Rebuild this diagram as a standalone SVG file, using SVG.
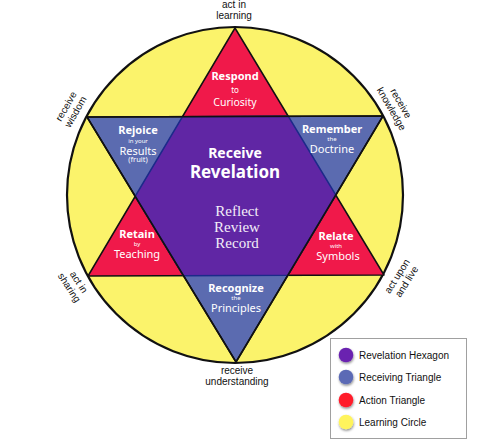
<svg xmlns="http://www.w3.org/2000/svg" width="477" height="441" viewBox="0 0 477 441">
<style>
.nt{font-family:"Noto Sans","DejaVu Sans",sans-serif;fill:#fff;text-anchor:middle}
.b{font-weight:bold;font-size:11px}
.s{font-size:6px}
.m{font-size:11px}
.ol{font-family:"Liberation Sans",Arial,sans-serif;font-size:10px;fill:#111;text-anchor:middle}
.lg{font-family:"Liberation Sans",Arial,sans-serif;font-size:10px;fill:#111}
.sf{font-family:"Liberation Serif","Times New Roman",serif;font-size:15px;fill:#f3eef8;text-anchor:middle}
</style>
<defs>
<filter id="sh" x="-50%" y="-50%" width="200%" height="200%">
<feDropShadow dx="0.5" dy="1.5" stdDeviation="1" flood-color="#000" flood-opacity="0.45"/>
</filter>
</defs>
<rect width="477" height="441" fill="#fff"/>
<g id="circle">
<circle cx="235" cy="195" r="168" fill="#fbf36b" stroke="#111" stroke-width="2.2"/>
</g>
<g id="action-triangle">
<polygon points="235,28 88,276 384,275" fill="#f0194a" stroke="#111" stroke-width="1.5" stroke-linejoin="round"/>
</g>
<g id="receiving-triangle">
<polygon points="87,117 383,116 236,362" fill="#5b6bb0" stroke="#111" stroke-width="1.5" stroke-linejoin="round"/>
</g>
<g id="hexagon">
<polygon points="182.4,116.8 288.3,116.3 335.8,195 287.8,275.3 183.5,275.7 135.2,196.3" fill="#6026a4" stroke="#1c2a8a" stroke-width="1.5"/>
</g>
<g id="connectors">
<polygon points="87,117 383,116 236,362" fill="none" stroke="#111" stroke-width="1.5" stroke-linejoin="round"/>
</g>
<g id="respond">
<text class="nt b" x="235" y="80">Respond</text>
<text class="nt" x="235" y="93" style="font-size:8px">to</text>
<text class="nt m" x="235" y="106" style="font-size:10.5px">Curiosity</text>
</g>
<g id="rejoice">
<text class="nt b" x="138" y="134">Rejoice</text>
<text class="nt s" x="138" y="143">in your</text>
<text class="nt m" x="138" y="155">Results</text>
<text class="nt" x="138" y="162" style="font-size:7.5px">(fruit)</text>
</g>
<g id="remember">
<text class="nt b" x="332" y="133">Remember</text>
<text class="nt s" x="332" y="141">the</text>
<text class="nt m" x="332" y="153">Doctrine</text>
</g>
<g id="revelation">
<text class="nt" x="235" y="158" style="font-weight:bold;font-size:14px">Receive</text>
<text class="nt" x="235" y="178" style="font-weight:bold;font-size:17px">Revelation</text>
<text class="sf" x="237" y="216">Reflect</text>
<text class="sf" x="237" y="232">Review</text>
<text class="sf" x="237" y="248">Record</text>
</g>
<g id="retain">
<text class="nt b" x="137" y="238">Retain</text>
<text class="nt s" x="137" y="246">by</text>
<text class="nt m" x="137" y="258">Teaching</text>
</g>
<g id="relate">
<text class="nt b" x="336" y="240">Relate</text>
<text class="nt s" x="336" y="248">with</text>
<text class="nt m" x="338" y="260">Symbols</text>
</g>
<g id="recognize">
<text class="nt b" x="236" y="292">Recognize</text>
<text class="nt s" x="236" y="300">the</text>
<text class="nt m" x="236" y="312">Principles</text>
</g>
<g id="labels">
<text class="ol" x="234" y="8">act in</text>
<text class="ol" x="234" y="19">learning</text>
<text class="ol" x="237" y="374">receive</text>
<text class="ol" x="237" y="385">understanding</text>
<text class="ol" transform="translate(69,108) rotate(-60)">receive</text>
<text class="ol" transform="translate(78.5,113.5) rotate(-60)">wisdom</text>
<text class="ol" transform="translate(398,105) rotate(60)">receive</text>
<text class="ol" transform="translate(388.5,110.5) rotate(60)">knowledge</text>
<text class="ol" transform="translate(76,284) rotate(57)">act in</text>
<text class="ol" transform="translate(66.5,289.5) rotate(57)">sharing</text>
<text class="ol" transform="translate(400,278) rotate(-58)">act upon</text>
<text class="ol" transform="translate(409.5,283.5) rotate(-58)">and live</text>
</g>
<g id="legend">
<rect x="330.5" y="338.5" width="136" height="100" fill="#fff" stroke="#a0a0a0" stroke-width="1"/>
<circle cx="346" cy="355" r="7.3" fill="#6a24b0" filter="url(#sh)"/>
<circle cx="346" cy="377" r="7.3" fill="#5b6bb5" filter="url(#sh)"/>
<circle cx="346" cy="400" r="7.3" fill="#ff1a2a" filter="url(#sh)"/>
<circle cx="346" cy="422" r="7.3" fill="#fff45c" filter="url(#sh)"/>
<text class="lg" x="359" y="358.5">Revelation Hexagon</text>
<text class="lg" x="359" y="380.5">Receiving Triangle</text>
<text class="lg" x="359" y="403.5">Action Triangle</text>
<text class="lg" x="359" y="425.5">Learning Circle</text>
</g>
</svg>
